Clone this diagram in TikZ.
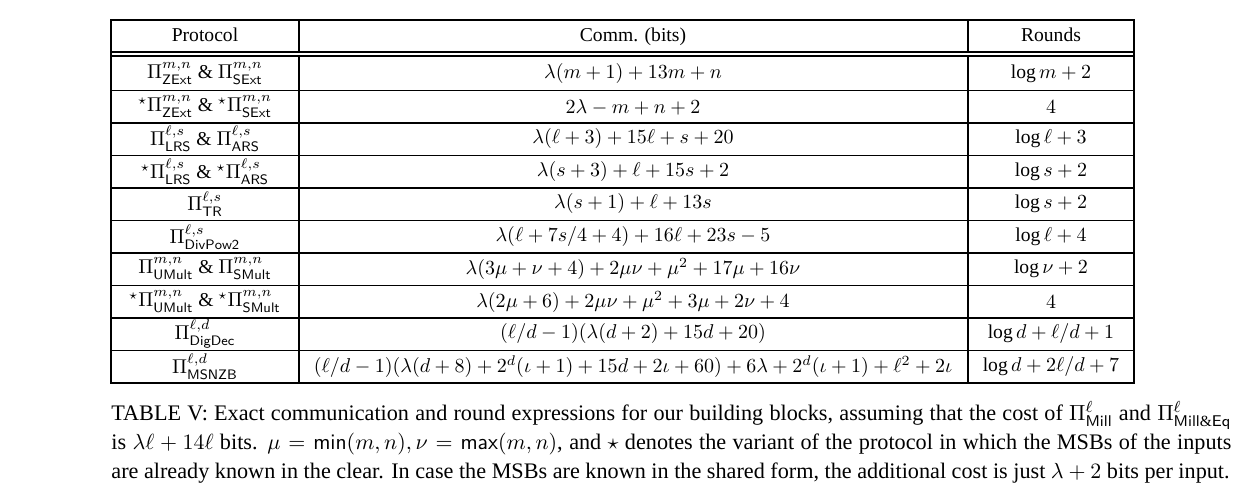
\documentclass[tikz,border=0pt]{standalone}
\usepackage{fontspec}
\setmainfont{Liberation Serif}
\begin{document}
\begin{tikzpicture}[x=0.5pt,y=-0.5pt,
  cell/.style={inner sep=0pt,font=\fontsize{9.8}{11}\selectfont},
  rule/.style={line width=0.6pt}]
\useasboundingbox (0,0) rectangle (1244,496);
\draw[rule] (111,20) rectangle (1134,383);
\draw[rule] (111,52) -- (1134,52);
\draw[rule] (111,56) -- (1134,56);
\foreach \i in {1,...,9} \draw[rule] (111,{58+32.5*\i}) -- (1134,{58+32.5*\i});
\draw[rule] (299,20) -- (299,52) (299,56) -- (299,383);
\draw[rule] (968,20) -- (968,52) (968,56) -- (968,383);
\node[cell,anchor=base] (h1) at (205,42) {Protocol};
\node[cell,anchor=base] (h2) at (633,42) {Comm. (bits)};
\node[cell,anchor=base] (h3) at (1051,42) {Rounds};
\def\S#1{\mathsf{#1}}
\foreach \y/\a/\b/\c [count=\k] in {
 74/{$\Pi^{m,n}_{\S{ZExt}}$ \& $\Pi^{m,n}_{\S{SExt}}$}/{$\lambda(m+1)+13m+n$}/{$\log m+2$},
 107/{${}^\star\Pi^{m,n}_{\S{ZExt}}$ \& ${}^\star\Pi^{m,n}_{\S{SExt}}$}/{$2\lambda-m+n+2$}/{$4$},
 139/{$\Pi^{\ell,s}_{\S{LRS}}$ \& $\Pi^{\ell,s}_{\S{ARS}}$}/{$\lambda(\ell+3)+15\ell+s+20$}/{$\log\ell+3$},
 172/{${}^\star\Pi^{\ell,s}_{\S{LRS}}$ \& ${}^\star\Pi^{\ell,s}_{\S{ARS}}$}/{$\lambda(s+3)+\ell+15s+2$}/{$\log s+2$},
 204/{$\Pi^{\ell,s}_{\S{TR}}$}/{$\lambda(s+1)+\ell+13s$}/{$\log s+2$},
 237/{$\Pi^{\ell,s}_{\S{DivPow2}}$}/{$\lambda(\ell+7s/4+4)+16\ell+23s-5$}/{$\log\ell+4$},
 269/{$\Pi^{m,n}_{\S{UMult}}$ \& $\Pi^{m,n}_{\S{SMult}}$}/{$\lambda(3\mu+\nu+4)+2\mu\nu+\mu^2+17\mu+16\nu$}/{$\log\nu+2$},
 302/{${}^\star\Pi^{m,n}_{\S{UMult}}$ \& ${}^\star\Pi^{m,n}_{\S{SMult}}$}/{$\lambda(2\mu+6)+2\mu\nu+\mu^2+3\mu+2\nu+4$}/{$4$},
 334/{$\Pi^{\ell,d}_{\S{DigDec}}$}/{$(\ell/d-1)(\lambda(d+2)+15d+20)$}/{$\log d+\ell/d+1$},
 367/{$\Pi^{\ell,d}_{\S{MSNZB}}$}/{$(\ell/d-1)(\lambda(d+8)+2^d(\iota+1)+15d+2\iota+60)+6\lambda+2^d(\iota+1)+\ell^2+2\iota$}/{$\log d+2\ell/d+7$}}
{
 \node[cell] (p\k) at (205,\y) {\a};
 \node[cell] (c\k) at (633,\y) {\b};
 \node[cell] (r\k) at (1051,\y) {\c};
}
\node[anchor=north west,inner sep=0pt,text width=560pt,align=justify,
  font=\fontsize{11.1}{14.6}\selectfont] (cap) at (111,401)
{TABLE V: Exact communication and round expressions for our building blocks, assuming that the cost of $\Pi^{\ell}_{\mathsf{Mill}}$ and $\Pi^{\ell}_{\mathsf{Mill\&Eq}}$\linebreak
is $\lambda\ell+14\ell$ bits. $\mu=\mathsf{min}(m,n),\nu=\mathsf{max}(m,n)$, and $\star$ denotes the variant of the protocol in which the MSBs of the inputs\linebreak
are already known in the clear. In case the MSBs are known in the shared form, the additional cost is just $\lambda+2$ bits per input.};
\end{tikzpicture}
\end{document}
